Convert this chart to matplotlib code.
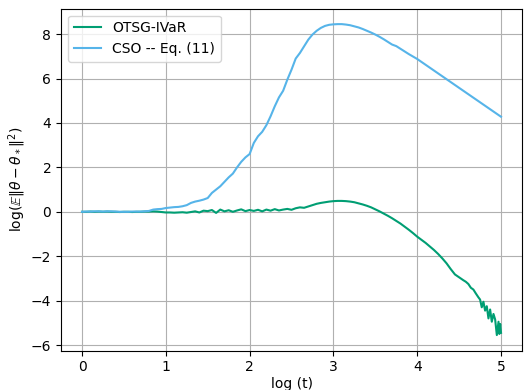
import matplotlib
matplotlib.use("Agg")
import matplotlib.pyplot as plt

blue_x = [0.00,0.05,0.10,0.15,0.20,0.25,0.30,0.35,0.40,0.45,0.50,0.55,0.60,0.65,0.70,0.75,0.80,0.85,0.90,0.95,
          1.00,1.05,1.10,1.15,1.20,1.25,1.30,1.35,1.40,1.45,1.50,1.55,1.60,1.65,1.70,1.75,1.80,1.85,1.90,1.95,
          2.00,2.05,2.10,2.15,2.20,2.25,2.30,2.35,2.40,2.45,2.50,2.55,2.60,2.65,2.70,2.75,2.80,2.85,2.90,2.95,
          3.00,3.05,3.10,3.15,3.20,3.25,3.30,3.35,3.40,3.45,3.50,3.55,3.60,3.65,3.70,3.75,3.80,3.85,3.90,3.95,
          4.00,4.05,4.10,4.15,4.20,4.25,4.30,4.35,4.40,4.45,4.50,4.55,4.60,4.65,4.70,4.75,4.80,4.85,4.90,4.95,5.00]
blue_y = [0.00,0.01,0.01,0.02,0.02,0.01,0.02,0.02,0.01,0.00,0.00,0.00,0.01,0.01,0.01,0.02,0.04,0.10,0.12,0.13,
          0.17,0.19,0.21,0.22,0.25,0.30,0.40,0.46,0.50,0.55,0.62,0.85,1.00,1.15,1.35,1.55,1.72,2.00,2.25,2.45,
          2.60,3.10,3.40,3.60,3.90,4.30,4.75,5.15,5.45,5.95,6.40,6.90,7.15,7.45,7.75,7.98,8.15,8.28,8.37,8.42,
          8.44,8.45,8.45,8.43,8.40,8.35,8.30,8.23,8.15,8.07,7.98,7.88,7.77,7.65,7.53,7.46,7.34,7.22,7.10,6.99,
          6.88,6.75,6.62,6.49,6.36,6.23,6.10,5.97,5.84,5.71,5.58,5.45,5.32,5.19,5.06,4.93,4.80,4.67,4.54,4.41,4.28]

green_x = [0.00,0.05,0.10,0.15,0.20,0.25,0.30,0.35,0.40,0.45,0.50,0.55,0.60,0.65,0.70,0.75,0.80,0.85,0.90,0.95,
           1.00,1.05,1.10,1.15,1.20,1.25,1.30,1.35,1.40,1.45,1.50,1.55,1.60,1.65,1.70,1.75,1.80,1.85,1.90,1.95,
           2.00,2.05,2.10,2.15,2.20,2.25,2.30,2.35,2.40,2.45,2.50,2.55,2.60,2.65,2.70,2.75,2.80,2.85,2.90,2.95,
           3.00,3.05,3.10,3.15,3.20,3.25,3.30,3.35,3.40,3.45,3.50,3.55,3.60,3.65,3.70,3.75,3.80,3.85,3.90,3.95,
           4.00,4.05,4.10,4.15,4.20,4.25,4.30,4.35,4.40,4.45,4.50,4.55,4.58,4.61,4.64,4.67,4.70,4.73,4.75,4.77,
           4.79,4.81,4.83,4.85,4.87,4.89,4.91,4.93,4.95,4.97,4.98,4.99,5.00]
green_y = [0.00,0.00,0.01,0.00,0.01,0.00,0.01,0.00,0.00,-0.01,0.00,0.00,-0.01,0.00,0.00,0.01,0.01,0.02,0.01,-0.01,
           -0.03,-0.03,-0.04,-0.03,-0.02,-0.04,-0.01,0.02,-0.03,0.05,0.03,0.08,-0.05,0.10,0.02,0.07,0.00,0.06,0.11,0.03,
           0.08,0.04,0.09,0.02,0.10,0.05,0.12,0.06,0.10,0.13,0.09,0.16,0.20,0.18,0.24,0.30,0.36,0.40,0.43,0.46,
           0.48,0.49,0.49,0.48,0.46,0.43,0.38,0.33,0.27,0.20,0.11,0.02,-0.08,-0.18,-0.29,-0.41,-0.53,-0.67,-0.81,-0.96,
           -1.12,-1.26,-1.40,-1.56,-1.72,-1.90,-2.10,-2.32,-2.58,-2.82,-2.95,-3.08,-3.15,-3.25,-3.42,-3.50,-3.68,-3.85,-3.95,-4.30,
           -4.05,-4.45,-4.25,-4.80,-4.40,-4.95,-4.60,-4.85,-5.55,-4.95,-5.50,-5.05,-5.45]

labels = ["OTSG-IVaR", "CSO -- Eq. (11)"]
colors = ["#009E73", "#56B4E9"]

fig, ax = plt.subplots(figsize=(5.31, 3.90), dpi=100)
ax.plot(green_x, green_y, color=colors[0], lw=1.5, label=labels[0])
ax.plot(blue_x, blue_y, color=colors[1], lw=1.5, label=labels[1])
ax.grid(True)
ax.set_xlabel("log (t)", labelpad=2)
ax.set_ylabel(r"$\log(\mathbb{E}\|\theta-\theta_*\|^2)$", labelpad=2)
ax.legend(loc="upper left")
fig.subplots_adjust(left=0.115, right=0.983, top=0.978, bottom=0.101)
fig.savefig("out.png", dpi=100)
